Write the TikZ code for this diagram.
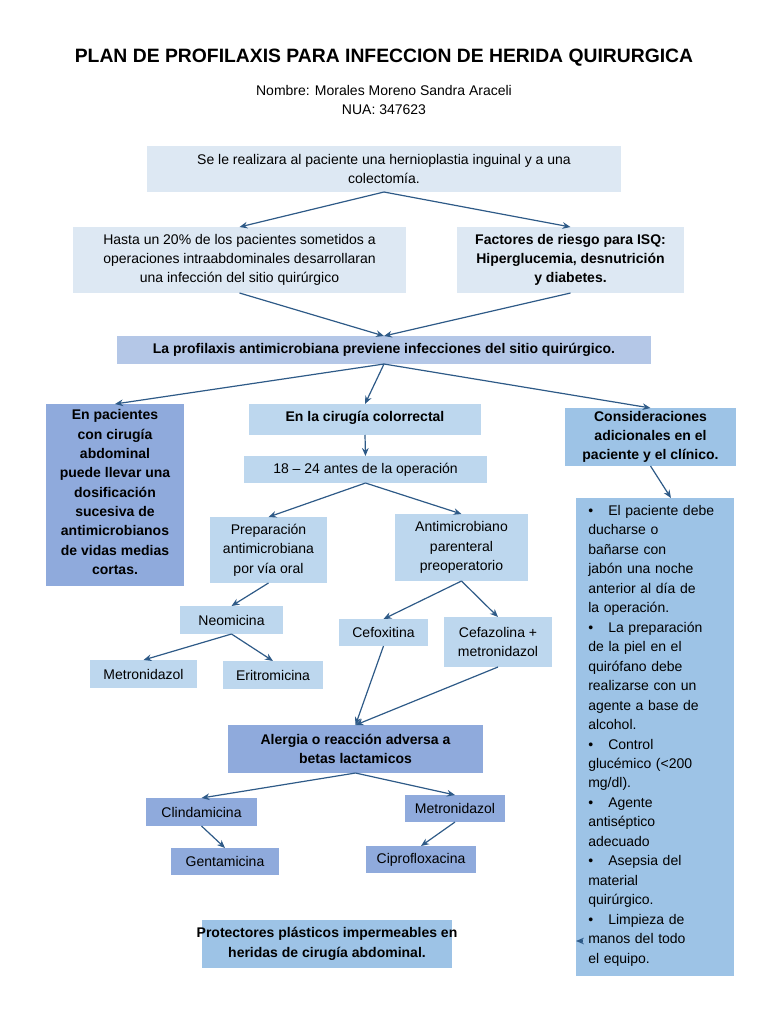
\documentclass[tikz,border=0pt]{standalone}
\usepackage{fontspec}
\setmainfont{Liberation Sans}
\usetikzlibrary{arrows.meta}
\definecolor{c1}{HTML}{DDE8F3}
\definecolor{c2}{HTML}{BDD7EE}
\definecolor{c3}{HTML}{B4C7E7}
\definecolor{c4}{HTML}{8FAADC}
\definecolor{c5}{HTML}{9DC3E6}
\definecolor{ac}{HTML}{2E5A87}
\begin{document}
\begin{tikzpicture}[x=0.75pt,y=-0.75pt,
  bx/.style={draw=none,inner sep=0pt,align=center,font=\fontsize{10.5}{14.5}\selectfont,text=black},
  arr/.style={draw=ac,line width=0.9pt,-{Stealth[length=6pt,width=5pt]}}]
\useasboundingbox (0,0) rectangle (768,1024);
\newcommand{\bxx}[5]{\fill[#5] (#1) rectangle (#2); \node[bx] (#3) at ($(#1)!0.5!(#2)$) {#4};}
\def\B#1#2#3#4#5#6{\fill[#6] (#1,#2) rectangle (#3,#4); \path (#1,#2) coordinate (#5-nw) (#3,#4) coordinate (#5-se);}
\node[font=\bfseries\fontsize{14.5}{17}\selectfont] (title) at (384,58) {PLAN DE PROFILAXIS PARA INFECCION DE HERIDA QUIRURGICA};
\node[bx] (nom) at (384,100) {Nombre: Morales Moreno Sandra Araceli\\NUA: 347623};
% boxes
\fill[c1] (147,146) rectangle (621,192); \node[bx] (top) at (384,169) {Se le realizara al paciente una hernioplastia inguinal y a una\\colectomía.};
\fill[c1] (73,227) rectangle (406,293); \node[bx] (hasta) at (239.5,260) {Hasta un 20\% de los pacientes sometidos a\\operaciones intraabdominales desarrollaran\\una infección del sitio quirúrgico};
\fill[c1] (457,227) rectangle (684,293); \node[bx,font=\bfseries\fontsize{10.5}{14.5}\selectfont] (fact) at (570.5,260) {Factores de riesgo para ISQ:\\Hiperglucemia, desnutrición\\y diabetes.};
\fill[c3] (117,336) rectangle (651,364); \node[bx,font=\bfseries\fontsize{10.5}{14.5}\selectfont] (prof) at (384,350) {La profilaxis antimicrobiana previene infecciones del sitio quirúrgico.};
\fill[c4] (46,404) rectangle (184,586); \node[bx,font=\bfseries\fontsize{10.5}{14.5}\selectfont] (pac) at (115,492) {En pacientes\\con cirugía\\abdominal\\puede llevar una\\dosificación\\sucesiva de\\antimicrobianos\\de vidas medias\\cortas.};
\fill[c2] (249,404) rectangle (481,435); \node[bx,font=\bfseries\fontsize{10.5}{14.5}\selectfont] (col) at (365,418) {En la cirugía colorrectal};
\fill[c2] (244,456) rectangle (487,483); \node[bx] (h18) at (365.5,469.5) {18 – 24 antes de la operación};
\fill[c2] (210,517) rectangle (327,583); \node[bx] (prep) at (268.5,550) {Preparación\\antimicrobiana\\por vía oral};
\fill[c2] (395,514) rectangle (528,581); \node[bx] (anti) at (461.5,547.5) {Antimicrobiano\\parenteral\\preoperatorio};
\fill[c2] (180,606) rectangle (283,634); \node[bx] (neo) at (231.5,620) {Neomicina};
\fill[c2] (90,660) rectangle (197,688); \node[bx] (met1) at (143.5,674) {Metronidazol};
\fill[c2] (223,661) rectangle (323,689); \node[bx] (eri) at (273,675) {Eritromicina};
\fill[c2] (339,619) rectangle (428,646); \node[bx] (cefo) at (383.5,632.5) {Cefoxitina};
\fill[c2] (444,617) rectangle (552,667); \node[bx] (cefa) at (498,642) {Cefazolina +\\metronidazol};
\fill[c5] (565,408) rectangle (736,466); \node[bx,font=\bfseries\fontsize{10.5}{14.5}\selectfont] (cons) at (650.5,437) {Consideraciones\\adicionales en el\\paciente y el clínico.};
\fill[c5] (576,498) rectangle (734,976);
\node[bx,align=left,anchor=north west,text width=124pt,font=\fontsize{10.5}{14.6}\selectfont] (list) at (588,505) {%
\def\it#1{\hangindent=15pt\hangafter=1\noindent\makebox[15pt][l]{\textbullet}#1\par}%
\it{El paciente debe\\ducharse o\\bañarse con\\jabón una noche\\anterior al día de\\la operación.}
\it{La preparación\\de la piel en el\\quirófano debe\\realizarse con un\\agente a base de\\alcohol.}
\it{Control\\glucémico (<200\\mg/dl).}
\it{Agente\\antiséptico\\adecuado}
\it{Asepsia del\\material\\quirúrgico.}
\it{Limpieza de\\manos del todo\\el equipo.}};
\coordinate (lst) at (576,941);
\fill[c4] (228,725) rectangle (483,773); \node[bx,font=\bfseries\fontsize{10.5}{14.5}\selectfont] (ale) at (355.5,749) {Alergia o reacción adversa a\\betas lactamicos};
\fill[c4] (146,798) rectangle (257,826); \node[bx] (cli) at (201.5,812) {Clindamicina};
\fill[c4] (171,848) rectangle (279,875); \node[bx] (gen) at (225,861.5) {Gentamicina};
\fill[c4] (405,795) rectangle (505,822); \node[bx] (met2) at (455,808.5) {Metronidazol};
\fill[c4] (366,846) rectangle (476,873); \node[bx] (cip) at (421,859.5) {Ciprofloxacina};
\fill[c5] (202,920) rectangle (452,968); \node[bx,font=\bfseries\fontsize{10.5}{14.5}\selectfont] (prot) at (327,944) {Protectores plásticos impermeables en\\heridas de cirugía abdominal.};
% arrows
\foreach \x/\a/\b/\ya/\yb in {267/top/hasta/192/227, 562/top/fact/192/227, 306/hasta/prof/293/336, 520/fact/prof/293/336,
 148/prof/pac/364/404, 370/prof/col/364/404, 633/prof/cons/364/408, 370/col/h18/435/456, 277/h18/prep/483/517, 454/h18/anti/483/514,
 257/prep/neo/583/606, 184/neo/met1/634/660, 267/neo/eri/634/661, 404/anti/cefo/581/619, 492/anti/cefa/581/617,
 403/cefo/ale/646/725, 462/cefa/ale/667/725, 657/cons/list/466/498, 234/ale/cli/773/798, 458/ale/met2/773/795, 226/cli/gen/826/848, 424/met2/cip/822/846}
 { \draw[arr] (\a.center |- 0,\ya) ++(\x,0) ++(-\x,0) -- (\b.center |- 0,\yb); }
\draw[arr] (prot.east |- 0,941) ++(125,0) -- (lst);
\end{tikzpicture}
\end{document}
